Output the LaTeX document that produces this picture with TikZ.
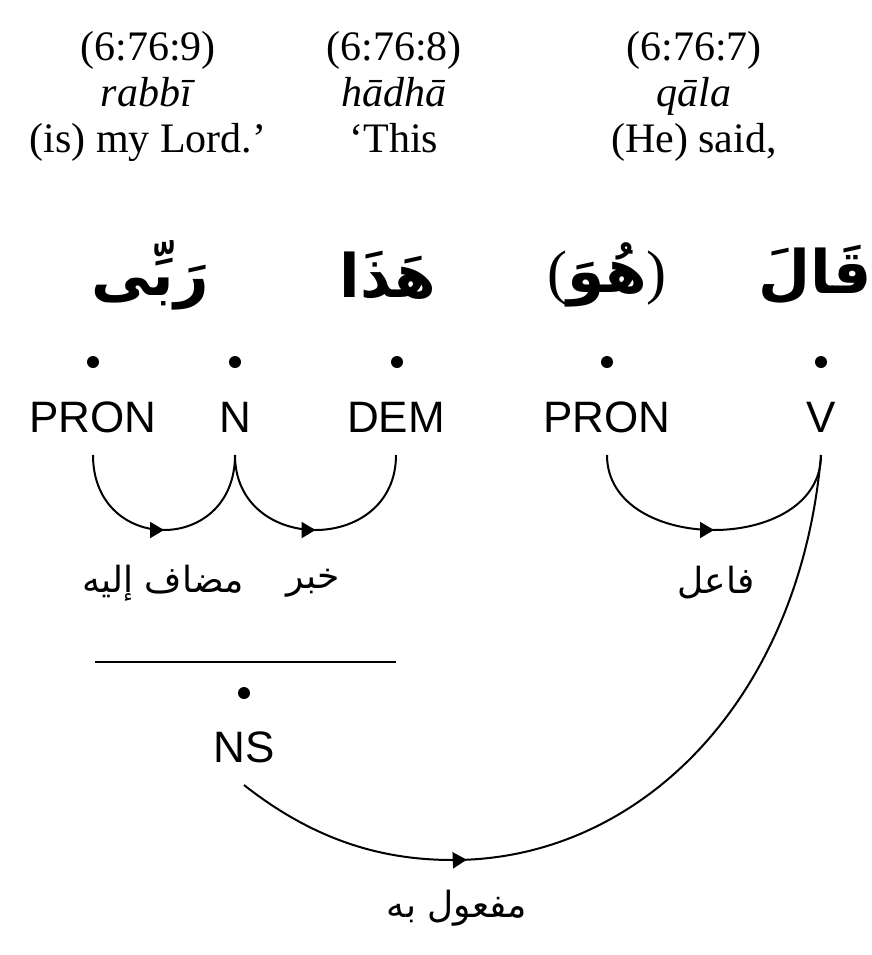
\documentclass[tikz,border=0pt]{standalone}
\usepackage{fontspec}
\setmainfont{Liberation Serif}
\setsansfont{Liberation Sans}
\newfontfamily\arabicfont[Script=Arabic]{DejaVu Sans}
\TeXXeTstate=1
\usetikzlibrary{arrows.meta,decorations.markings}

\tikzset{
  verse/.style={align=center, inner sep=0pt, anchor=north,
    font=\fontsize{21}{23}\selectfont},
  mot/.style={inner sep=0pt, font=\arabicfont\bfseries\fontsize{30}{36}\selectfont},
  etiq/.style={inner sep=0pt, anchor=base, font=\sffamily\fontsize{22}{26}\selectfont},
  rel/.style={inner sep=0pt, font=\arabicfont\fontsize{18}{22}\selectfont},
  lien/.style={line width=1pt, postaction={decorate},
    decoration={markings,
      mark=at position #1 with {\arrow{Triangle[length=7pt,width=8pt]}}}},
  lien/.default=0.5,
}

\begin{document}
\begin{tikzpicture}[x=0.5pt,y=-0.5pt]
\useasboundingbox (0,0) rectangle (872,955);

% Traduction
\node[verse] (w9) at (148,31) {(6:76:9)\\\textit{rabbī}\\(is) my Lord.’};
\node[verse] (w8) at (394,31) {(6:76:8)\\\textit{hādhā}\\‘This};
\node[verse] (w7) at (694,31) {(6:76:7)\\\textit{qāla}\\(He) said,};

% Mots arabes
\node[mot] (rabbi) at (150,275) {\beginR رَبِّى\endR};
\node[mot] (hadha) at (388,275) {\beginR هَذَا\endR};
\node[mot] (huwa) at (607,275) {{\rmfamily\mdseries(}\beginR هُوَ\endR{\rmfamily\mdseries)}};
\node[mot] (qala) at (815,275) {\beginR قَالَ\endR};

% Points
\fill (93,362) circle (3pt);
\fill (235,362) circle (3pt);
\fill (397,362) circle (3pt);
\fill (607,362) circle (3pt);
\fill (821,362) circle (3pt);

% Etiquettes
\node[etiq] (pron1) at (93,432) {PRON};
\node[etiq] (n) at (235,432) {N};
\node[etiq] (dem) at (396,432) {DEM};
\node[etiq] (pron2) at (607,432) {PRON};
\node[etiq] (v) at (821,432) {V};

% Arcs
\draw[lien]
([yshift=-11.5pt]pron1.base)
.. controls +(0,100) and +(0,100) ..
([yshift=-11.5pt]n.base);

\draw[lien]
([yshift=-11.5pt]n.base)
.. controls +(0,100) and +(0,100) ..
([yshift=-11.5pt]dem.base);

\draw[lien]
([yshift=-11.5pt]pron2.base)
.. controls +(0,100) and +(0,100) ..
([yshift=-11.5pt]v.base);

\node[rel] (idafa) at (163,583) {\beginR مضاف إليه\endR};
\node[rel] (khabar) at (313,583) {\beginR خبر\endR};
\node[rel] (fail) at (716,583) {\beginR فاعل\endR};

% Phrase nominale
\draw[line width=1pt]
(95,662)
--
(396,662);

\fill (244,693) circle (3pt);

\node[etiq] (ns) at (244,762) {NS};

\draw[lien=0.29]
([yshift=-11.5pt]ns.base)
.. controls (320,845) and (390,860) .. (453,860)
.. controls (640,860) and (800,700) ..
([yshift=-11.5pt]v.base);

\node[rel] (maful) at (457,908) {\beginR مفعول به\endR};

\end{tikzpicture}
\end{document}
